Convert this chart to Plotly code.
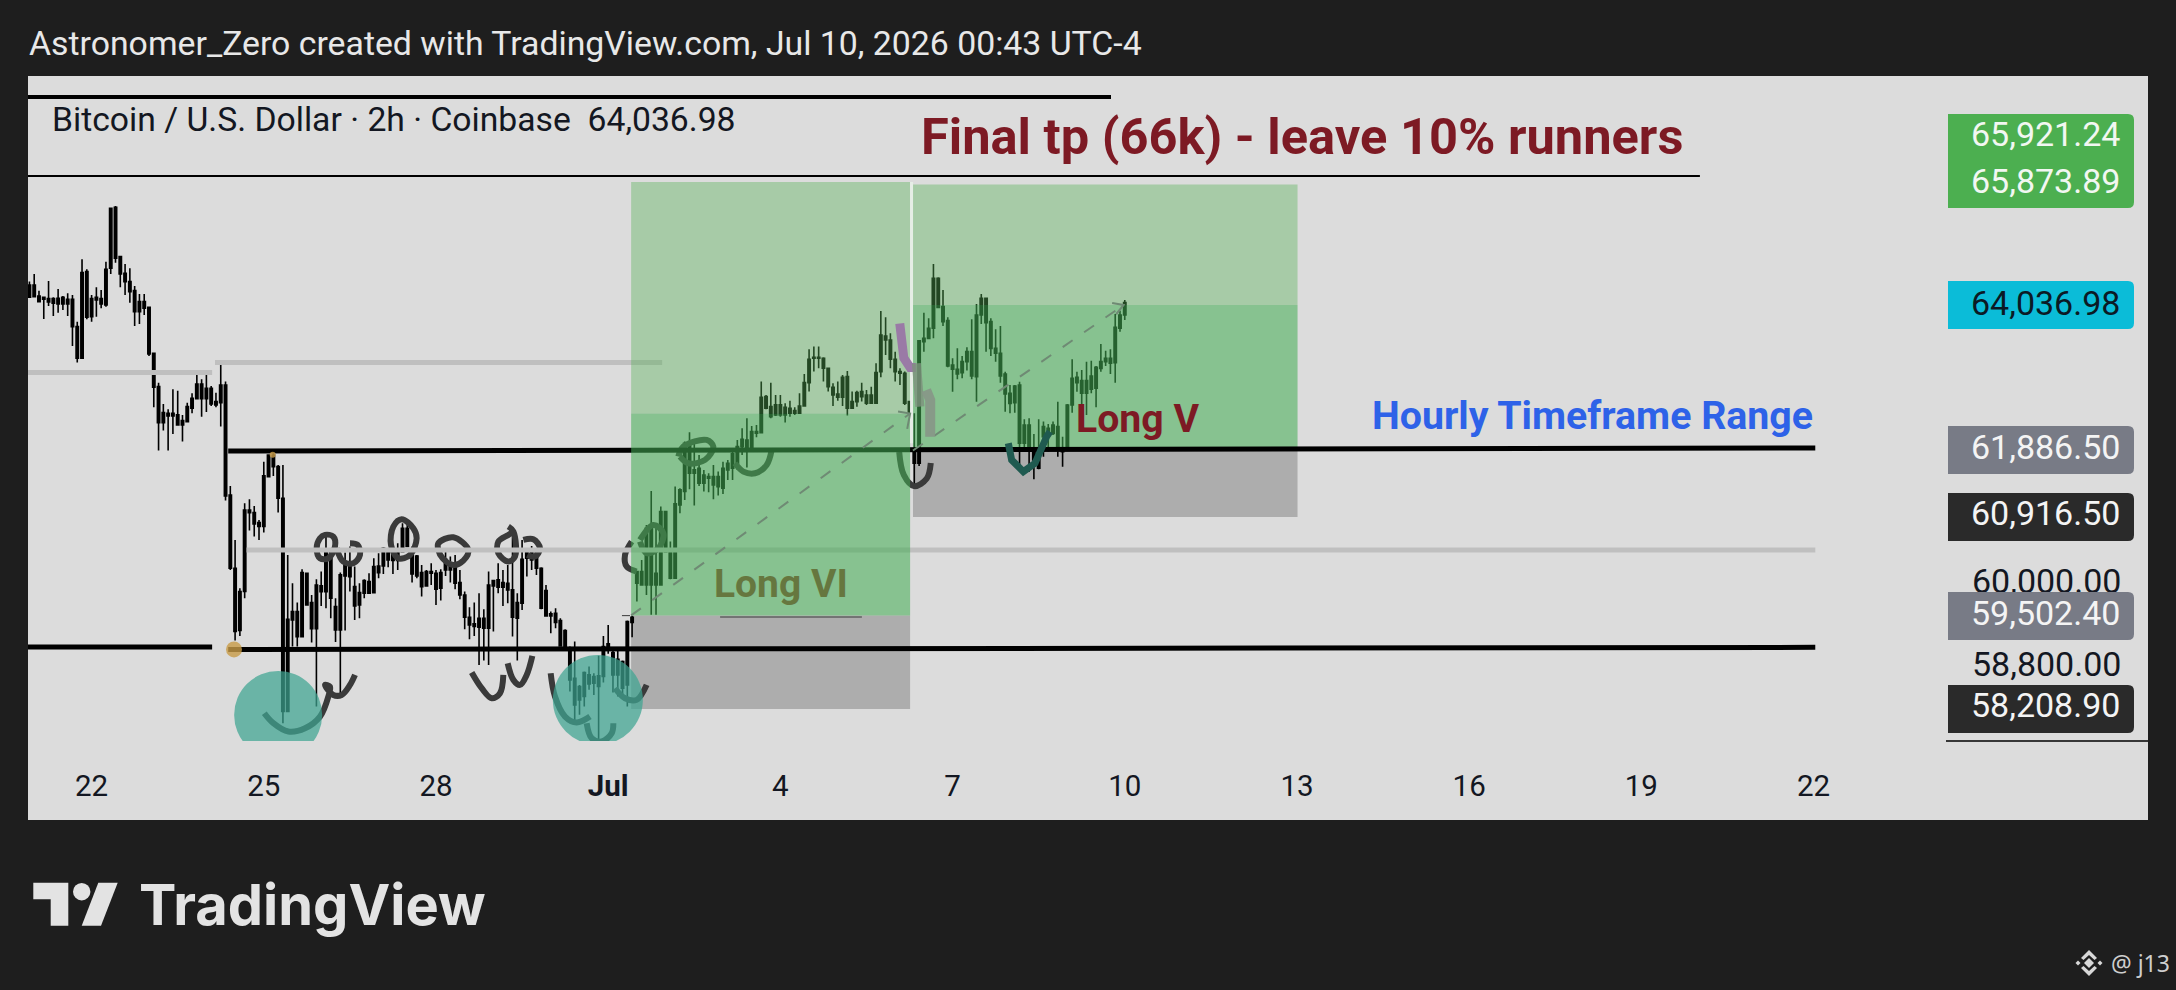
import pandas as pd
import plotly.graph_objects as go

W, H = 2176, 990

# candles are all black in the picture so only body top / bottom can be read, not direction
highs = [64341,64452,64210,64123,64350,64114,64234,64133,64172,64147,
    63761,64664,64519,64147,64259,64220,64630,65403,65437,64703,
    64597,64534,64278,64162,64162,63978,63302,62877,62568,62491,
    62781,62761,62409,62587,62723,63051,62925,62988,62829,62732,
    63148,62892,61380,60597,59897,61129,61187,61090,60887,61732,
    61829,61853,61684,61684,60380,59969,59689,60172,60114,59800,
    60027,60138,60684,60476,59752,60124,60414,60501,60211,59969,
    60027,60114,60331,60404,60491,60462,60428,60549,60839,60839,
    60501,60380,60235,60162,60259,60162,60172,60462,60356,60380,
    60163,59849,59622,59689,59825,59593,60139,60018,60259,60163,
    60235,60766,59825,60597,60477,60510,60452,60201,59945,59559,
    59607,59462,59303,59052,59124,58496,58690,58762,58665,58917,
    59206,59366,59028,59003,58849,59429,59496,60139,60308,60815,
    61307,60815,61080,61008,60573,61370,61346,62022,62157,61998,
    61829,61612,61563,61684,61588,61732,61757,61926,62046,62215,
    62360,62249,62264,62892,62698,62877,62698,62698,62578,62616,
    62520,62723,63003,63360,63399,63399,63244,63085,62867,62892,
    62988,63046,62747,62761,62877,62771,62819,63157,63916,63824,
    63592,63326,63085,63037,62602,62432,63495,63891,63809,64596,
    64403,64219,63823,63229,63374,63263,63389,63794,64017,64161,
    64099,63809,63649,63698,63036,62843,62843,62891,62345,62360,
    62133,62345,62312,62278,62312,62601,62094,62568,63215,63036,
    63060,63181,63195,63118,63437,63340,63360,63872,63920,64074]
body_tops = [64292,64292,64133,64114,64094,64094,64099,64114,64085,64085,
    63689,64471,64486,64094,64114,64094,64519,65403,65418,64703,
    64461,64341,64210,64051,64051,63968,63302,62819,62442,62433,
    62433,62409,62327,62529,62650,62858,62858,62795,62795,62602,
    62843,62843,61249,60187,59849,61032,61032,60993,60849,61525,
    61829,61829,61660,61201,59448,59559,59559,60124,60114,59689,
    59945,59931,60428,60452,59631,60090,60235,60235,59921,59834,
    60008,59993,60211,60220,60476,60452,60414,60443,60766,60766,
    60380,60365,60124,60138,60138,60114,60124,60317,60259,60250,
    59979,59800,59477,59380,59462,59462,59945,60008,60018,59979,
    59969,59873,59689,60317,60428,60452,60428,60187,59863,59525,
    59535,59429,59284,59028,58593,58472,58675,58641,58617,58627,
    59052,59090,58965,58868,58834,59414,59477,60139,60139,60766,
    60766,60114,61008,61008,60453,61119,61322,61998,61998,61612,
    61636,61539,61515,61515,61515,61636,61708,61844,61950,62056,
    62046,62167,62167,62665,62674,62529,62554,62554,62520,62505,
    62471,62539,62877,63215,63244,63244,63230,63085,62810,62713,
    62954,62964,62602,62732,62747,62698,62698,63022,63568,63553,
    63495,63215,63037,63012,62602,61901,63485,63519,63664,64388,
    64388,63978,63775,63133,63070,63181,63326,63326,63857,64099,
    64099,63761,63374,63302,63002,62722,62828,62843,62263,62263,
    61901,61925,62239,62215,62263,62239,61901,62553,62939,62954,
    62906,62906,62973,63099,63181,63229,63229,63678,63857,64037]
body_bots = [64114,64123,64051,64085,64046,64027,64017,64017,64017,63689,
    63230,63230,63824,63833,64075,64017,64003,64534,64679,64452,
    64341,64196,63906,63906,63954,63293,62810,62298,62298,62394,
    62394,62264,62264,62312,62505,62645,62645,62645,62568,62554,
    62587,61235,60187,59269,59284,59849,60993,60829,60791,60791,
    61515,61660,61201,58110,58110,59438,59196,59196,59655,59312,
    59312,59848,59848,59752,59293,59293,60075,60066,59641,59655,
    59824,59824,59834,60124,60220,60307,60298,60298,60428,60501,
    60104,60075,59921,59931,60114,59882,59897,60163,60163,59969,
    59800,59477,59366,59342,59332,59317,59317,59931,59912,59912,
    59873,59477,59462,59680,60332,60308,60187,59607,59496,59496,
    59400,59061,59052,58569,58207,58279,58327,58511,58520,58472,
    58617,59028,58641,58641,58448,58496,59400,59969,59945,59945,
    59945,59945,59945,60428,60042,60042,61105,61298,61563,61563,
    61418,61418,61491,61394,61370,61346,61612,61636,61708,61950,
    61926,61926,62143,62153,62505,62384,62409,62409,62409,62433,
    62433,62433,62539,62877,63230,63230,63085,62819,62698,62665,
    62665,62505,62505,62602,62674,62578,62578,62578,63037,63495,
    63215,63037,63012,62578,62433,61708,61708,63471,63519,63664,
    63968,63761,63118,63070,63002,63022,63181,62973,62964,63857,
    63746,63374,63302,62973,62712,62577,62587,61998,61998,61901,
    61756,61635,62094,62167,62142,61901,61877,61901,62553,62877,
    62722,62722,62780,62795,63084,63181,63157,63166,63664,63857]
lows = [64114,64114,64051,63800,63988,63843,63891,63930,63843,63408,
    63167,63230,63795,63761,63833,63954,63978,64452,64616,64259,
    64147,64036,63698,63727,63858,63264,62520,61892,62182,61892,
    62133,62264,62022,62298,62433,62636,62384,62452,62539,62520,
    62240,61167,60163,59139,59206,59752,60733,60646,60597,60704,
    61515,61524,60993,57941,58110,59051,59051,59196,59655,59109,
    58182,59641,59607,59462,59119,58351,59283,59848,59438,59462,
    59752,59824,59834,60042,60104,60201,60104,60162,60414,60501,
    59979,60042,59776,59921,59945,59655,59718,60076,59979,59883,
    59738,59303,59158,59206,58786,58849,58786,59269,59825,59641,
    59680,59197,58849,59583,60066,60163,60090,59593,59486,59245,
    59317,59061,59028,58400,57989,58062,58182,58424,58351,57675,
    58530,58946,58385,58327,58327,58182,59187,59704,59945,59800,
    59511,59511,59945,60428,60027,60042,60984,61177,61332,61095,
    61380,61298,61288,61187,61240,61264,61467,61467,61612,61829,
    61646,61926,62085,62153,62491,62360,62394,62384,62298,62384,
    62409,62423,62539,62747,63037,63085,62892,62747,62539,62616,
    62539,62399,62505,62529,62602,62554,62568,62568,62954,63278,
    63085,62892,62843,62554,62433,61346,61669,63326,63505,63519,
    63954,63698,63099,62746,62925,62939,63051,62925,62601,63727,
    63326,63263,63181,62877,62456,62432,62442,61684,61901,61587,
    61476,61621,61804,61877,62118,61804,61659,61901,62442,62746,
    62553,62408,62722,62519,63036,63118,63002,62877,63616,63785]
assert len(highs) == len(body_tops) == len(body_bots) == len(lows)

# x axis
tick_days = [0, 3, 6, 9, 12, 15, 18, 21, 24, 27, 30]
tick_text = ["22", "25", "28", "<b>Jul</b>", "4", "7", "10", "13", "16", "19", "22"]
price_ticks = [60000, 58800]
price_text = ["60,000.00", "58,800.00"]

# position boxes, days since Jun 22 and price
long6_days = [9.40, 14.26]
long6_prices = [65784, 62430, 59503, 58148]
long5_days = [14.31, 21.01]
long5_prices = [65747, 64002, 61893, 60930]

# hand drawn levels: day start, day end, price at start, price at end, width
black_levels = [(-1.11, 17.76, 67016, 67016, 4), (-1.11, 28.02, 65871, 65871, 2), (-1.11, 2.10, 59047, 59047, 5),
    (2.38, 30.03, 59010, 59040, 5), (2.38, 30.03, 61887, 61930, 5)]
thin_levels = [(10.95, 13.42, 59480), (9.24, 9.38, 59500)]
gray_levels = [(-1.11, 2.10, 63024), (2.15, 9.94, 63169), (2.70, 30.03, 60452)]

# pen scribbles
scribbles = [
    ([3.009,3.166,3.427,3.718,3.979,4.124,4.153,4.066,4.211,4.356,4.502,4.589],
     [58085,57941,57820,57868,58037,58327,58472,58496,58351,58351,58496,58641]),
    ([4.066,4.211,4.240,4.124,3.979,3.921,3.979,4.066], [60670,60645,60501,60331,60331,60476,60621,60670]),
    ([4.269,4.385,4.560,4.676,4.635,4.502], [60476,60283,60259,60380,60525,60549]),
    ([5.402,5.605,5.663,5.547,5.344,5.216,5.257,5.402], [60897,60766,60621,60380,60331,60525,60790,60897]),
    ([6.116,6.041,6.041,6.302,6.564,6.476,6.302,6.116], [60332,60452,60549,60636,60452,60298,60235,60332]),
    ([7.260,7.348,7.377,7.260,7.086,7.086,7.260,7.348], [60791,60718,60356,60283,60404,60573,60670,60718]),
    ([7.522,7.696,7.812,7.725,7.591], [60597,60607,60477,60356,60380]),
    ([6.622,6.796,6.970,7.115,7.173], [58675,58448,58303,58376,58641]),
    ([7.249,7.348,7.464,7.580,7.679], [58810,58569,58496,58641,58917]),
    ([7.998,8.073,8.248,8.451,8.683], [58665,58327,58037,57951,58037]),
    ([8.625,8.712,8.886,9.061,9.090], [57941,57724,57675,57796,57941]),
    ([9.119,9.293,9.496,9.670], [58448,58303,58279,58496]),
    ([9.409,9.293,9.322,9.496], [60573,60380,60211,60139]),
    ([9.554,9.786,9.961,9.874,9.670,9.554], [60597,60815,60694,60477,60404,60573]),
    ([10.222,10.309,10.716,10.832,10.687,10.396,10.251], [61805,61950,62046,61950,61757,61708,61805]),
    ([11.209,11.355,11.558,11.761,11.848], [61708,61588,61563,61684,61901]),
    ([14.07,14.15,14.33,14.55,14.62], [61872,61539,61377,61488,61713]),
]
purple_days, purple_prices = [14.08, 14.15, 14.26, 14.36], [63734, 63234, 63097, 63097]
gray1_days, gray1_prices = [14.37, 14.43], [63157, 62529]
gray2_days, gray2_prices = [14.54, 14.61, 14.61], [62770, 62626, 62094]
teal_days = [15.971, 16.029, 16.233, 16.436, 16.639, 16.697]
teal_prices = [61998, 61756, 61587, 61708, 62094, 62167]

# value tags on the price scale
tag_text = ["65,921.24", "65,873.89", "64,036.98", "61,886.50", "60,916.50", "59,502.40", "58,208.90"]

base = pd.Timestamp("2026-06-22")
def day(t):
    return base + pd.Timedelta(days=t)

def px(x):
    return x / W

def py(y):
    return 1 - y / H

def stamp(t):
    return day(t).strftime("%Y-%m-%d_%H:%M:%S")

def level(t0, t1, p, color, width, dash=None, layer="above", p1=None):
    return dict(type="line", xref="x", yref="y", layer=layer, x0=day(t0), x1=day(t1), y0=p,
        y1=p if p1 is None else p1, line=dict(color=color, width=width, dash=dash))

def box(days, p0, p1, color, layer="above"):
    return dict(type="rect", xref="x", yref="y", layer=layer, x0=day(days[0]), x1=day(days[1]),
        y0=p0, y1=p1, fillcolor=color, line_width=0)

def stroke(ts, ps, color, width):
    path = "M " + " L ".join(f"{stamp(t)},{p}" for t, p in zip(ts, ps))
    return dict(type="path", xref="x", yref="y", layer="above", path=path, line=dict(color=color, width=width))

def dot(t, p, r, color):
    return dict(type="circle", xref="x", yref="y", xsizemode="pixel", ysizemode="pixel", layer="above",
        xanchor=day(t), yanchor=p, x0=-r, x1=r, y0=-r, y1=r, fillcolor=color, line_width=0)

def poly(points, color, layer="above"):
    path = "M " + " L ".join(f"{px(x)},{py(y)}" for x, y in points) + " Z"
    return dict(type="path", xref="paper", yref="paper", layer=layer, path=path, fillcolor=color, line_width=0)

def tag(y0, y1, color):
    x0, x1, r = 1948, 2134, 6
    path = (f"M {px(x0)},{py(y0)} L {px(x1 - r)},{py(y0)} Q {px(x1)},{py(y0)} {px(x1)},{py(y0 + r)} "
        f"L {px(x1)},{py(y1 - r)} Q {px(x1)},{py(y1)} {px(x1 - r)},{py(y1)} L {px(x0)},{py(y1)} Z")
    return dict(type="path", xref="paper", yref="paper", layer="above", path=path, fillcolor=color, line_width=0)

times = pd.date_range("2026-06-20 22:00", periods=len(highs), freq="2h")

fig = go.Figure()
fig.add_trace(go.Candlestick(x=times, open=body_bots, high=highs, low=lows, close=body_tops,
    increasing=dict(line=dict(color="#000000", width=1.6), fillcolor="#000000"),
    decreasing=dict(line=dict(color="#000000", width=1.6), fillcolor="#000000"),
    whiskerwidth=0, hoverinfo="skip"))
for ts, ps in scribbles:
    fig.add_trace(go.Scatter(x=[day(t) for t in ts], y=ps, mode="lines", hoverinfo="skip",
        line=dict(color="#3a3a3a", width=6, shape="spline")))

BG = "#dcdcdc"
shapes = [
    dict(type="rect", xref="paper", yref="paper", layer="below", x0=px(28), x1=px(2148), y0=py(820), y1=py(76),
        fillcolor=BG, line_width=0),
    box(long6_days, long6_prices[2], long6_prices[3], "#adadad", "below"),
    box(long5_days, long5_prices[2], long5_prices[3], "#adadad", "below"),
    box(long5_days, long5_prices[0], long5_prices[1], "rgba(87,177,87,0.40)"),
    box(long5_days, long5_prices[1], long5_prices[2], "rgba(68,173,84,0.56)"),
]
for t0, t1, p in gray_levels:
    shapes.append(level(t0, t1, p, "#bfbfbf", 5))
for t0, t1, p0, p1, w in black_levels:
    shapes.append(level(t0, t1, p0, "#000000", w, p1=p1))
for t0, t1, p in thin_levels:
    shapes.append(level(t0, t1, p, "#3a3a3a", 1))
shapes += [
    box(long6_days, long6_prices[0], long6_prices[1], "rgba(87,177,87,0.40)"),
    box(long6_days, long6_prices[1], long6_prices[2], "rgba(68,173,84,0.56)"),
    level(14.285, 14.285, 65784, "#e6eee6", 3, p1=62000),
    level(9.40, 14.26, 59503, "#6f8a74", 2, "12px,14px", p1=62430),
    level(14.31, 17.98, 61893, "#6f8a74", 2, "12px,14px", p1=64002),
    stroke([14.05, 14.26, 14.21], [62459, 62430, 62206], "#6f8a74", 2),
    stroke([17.78, 17.98, 17.85], [64031, 64002, 63868], "#6f8a74", 2),
    dot(3.25, 58061, 44, "rgba(62,165,145,0.72)"),
    dot(8.82, 58279, 45, "rgba(62,165,145,0.72)"),
    stroke(purple_days, purple_prices, "#9a7aa6", 9),
    stroke(gray1_days, gray1_prices, "rgba(125,145,125,0.8)", 9),
    stroke(gray2_days, gray2_prices, "rgba(135,150,135,0.9)", 10),
    stroke(teal_days, teal_prices, "#1f5a50", 7),
    dot(2.481, 59010, 8, "rgba(200,155,70,0.8)"),
    dot(3.155, 61830, 3, "rgba(200,155,70,0.8)"),
    dict(type="line", xref="paper", yref="paper", x0=px(1946), x1=px(2148), y0=py(741), y1=py(741),
        line=dict(color="#000000", width=1.5)),
    # price tags
    tag(114, 208, "#4caf50"), tag(281, 329, "#0bbcd8"), tag(426, 474, "#787b86"),
    tag(493, 541, "#2a2a2a"), tag(592, 640, "#787b86"), tag(685, 733, "#2a2a2a"),
    # TradingView mark
    poly([(33.3, 882.7), (68.3, 882.7), (68.3, 925.7), (50.7, 925.7), (50.7, 899.3), (33.3, 899.3)], "#e3e3e3"),
    poly([(98.3, 882.7), (117.7, 882.7), (101, 925.7), (81.7, 925.7)], "#e3e3e3"),
    dict(type="circle", xref="paper", yref="paper", x0=px(73), x1=px(90.4), y0=py(900.4), y1=py(883),
        fillcolor="#e3e3e3", line_width=0),
    # exchange mark, bottom right
    poly([(2089, 958), (2094, 963), (2089, 968), (2084, 963)], "#d8d8d8"),
    poly([(2078, 960.5), (2080.5, 963), (2078, 965.5), (2075.5, 963)], "#d8d8d8"),
    poly([(2100, 960.5), (2102.5, 963), (2100, 965.5), (2097.5, 963)], "#d8d8d8"),
    poly([(2089, 950), (2097, 958), (2094.5, 960), (2089, 955), (2083.5, 960), (2081, 958)], "#d8d8d8"),
    poly([(2089, 976), (2097, 968), (2094.5, 966), (2089, 971), (2083.5, 966), (2081, 968)], "#d8d8d8"),
]

def label(x, y, text, size, color, anchor="left", family="Roboto", weight=None):
    return dict(xref="paper", yref="paper", x=px(x), y=py(y), text=text, showarrow=False, xanchor=anchor,
        yanchor="middle", align=anchor, borderpad=0, font=dict(family=family, size=size, color=color, weight=weight))

annotations = [
    label(28, 44, "Astronomer_Zero created with TradingView.com, Jul 10, 2026 00:43 UTC-4", 33.8, "#e8e8e8"),
    label(51, 119, "Bitcoin / U.S. Dollar · 2h · Coinbase  64,036.98", 33.7, "#131722"),
    label(920, 136, "<b>Final tp (66k) - leave 10% runners</b>", 50.6, "#7d1a24"),
    label(1371, 416, "<b>Hourly Timeframe Range</b>", 39.3, "#2e62e8"),
    label(1075, 419, "<b>Long V</b>", 39.2, "#7d1a24"),
    label(713, 584, "<b>Long VI</b>", 39, "#66773f"),
    label(138, 905, "TradingView", 56, "#e3e3e3", family="Inter", weight=700),
    label(2110, 963, "@ j13", 23, "#cfcfcf", family="Noto Sans"),
]
tag_ys = [133.5, 181, 302.5, 446.5, 513, 612.5, 705]
for txt, y, col in zip(tag_text, tag_ys, ["#f2f7f2", "#f2f7f2", "#0b1a25", "#f4f4f4", "#f4f4f4", "#f4f4f4", "#f4f4f4"]):
    annotations.append(label(2121, y, txt, 34, col, anchor="right"))

fig.update_layout(
    width=W, height=H, autosize=False, margin=dict(l=0, r=0, t=0, b=0),
    paper_bgcolor="#1e1e1e", plot_bgcolor="rgba(0,0,0,0)", showlegend=False, hovermode=False,
    shapes=shapes, annotations=annotations,
    xaxis=dict(domain=[px(28), px(1945)], type="date", range=[day(-1.108), day(32.29)],
        rangeslider=dict(visible=False), showgrid=False, zeroline=False, showline=False, ticks="",
        tickmode="array", tickvals=[day(t) for t in tick_days], ticktext=tick_text,
        tickfont=dict(family="Roboto", size=29.5, color="#131722"), ticklabelstandoff=24),
    yaxis=dict(domain=[py(741), py(76)], range=[57683, 67321], side="right", showgrid=False, zeroline=False,
        showline=False, ticks="", tickmode="array", tickvals=price_ticks, ticktext=price_text,
        tickfont=dict(family="Roboto", size=34, color="#131722"), ticklabelstandoff=26),
)

fig.write_html("out.html", config=dict(displayModeBar=False),
    post_script="document.body.style.margin='0';")
